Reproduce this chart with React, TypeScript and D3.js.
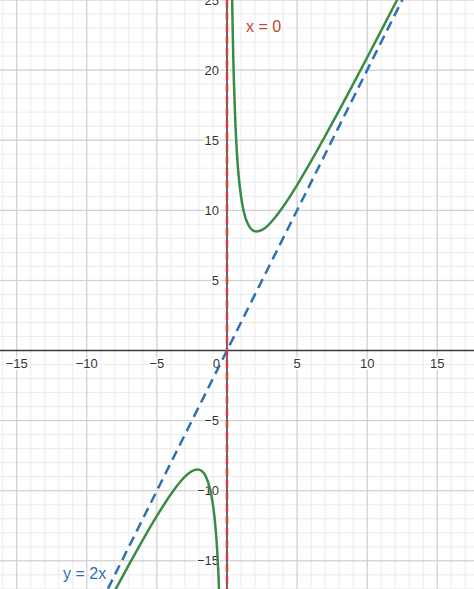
import React from "react";
import * as d3 from "d3";

const W = 474;
const H = 589;

const xDomain: [number, number] = [-16.19, 17.62];
const yDomain: [number, number] = [-17.01, 25.0];

const xTicks = [-15, -10, -5, 5, 10, 15];
const yTicks = [-15, -10, -5, 5, 10, 15, 20, 25];

// y = 2x + 9/x (right branch)
const rightX = [0.36, 0.4, 0.45, 0.5, 0.6, 0.7, 0.8, 0.9, 1.0, 1.2, 1.5, 1.8, 2.1, 2.5, 3, 3.5, 4, 5, 6, 7, 8, 9, 10, 11, 12, 12.5];
const rightY = [25.72, 23.3, 20.9, 19, 16.2, 14.26, 12.85, 11.8, 11, 9.9, 9, 8.6, 8.49, 8.6, 9, 9.57, 10.25, 11.8, 13.5, 15.29, 17.13, 19, 20.9, 22.82, 24.75, 25.72];
// left branch
const leftX = [-8.2, -8, -7, -6, -5, -4, -3.5, -3, -2.5, -2.1, -1.8, -1.5, -1.2, -1.0, -0.9, -0.8, -0.7, -0.6, -0.5, -0.45];
const leftY = [-17.5, -17.13, -15.29, -13.5, -11.8, -10.25, -9.57, -9, -8.6, -8.49, -8.6, -9, -9.9, -11, -11.8, -12.85, -14.26, -16.2, -19, -20.9];

// asymptote y = 2x endpoints
const asymX = [-9, 13];
const asymY = [-18, 26];

const GREEN = "#388c46";
const BLUE = "#2d70b3";
const RED = "#c74440";

export default function App() {
  const x = d3.scaleLinear().domain(xDomain).range([0, W]);
  const y = d3.scaleLinear().domain(yDomain).range([H, 0]);

  const minor = d3.range(-16, 18, 1);
  const minorY = d3.range(-17, 26, 1);

  const line = d3
    .line<[number, number]>()
    .x((d) => x(d[0]))
    .y((d) => y(d[1]))
    .curve(d3.curveMonotoneX);

  const right = line(rightX.map((v, i) => [v, rightY[i]] as [number, number]))!;
  const left = line(leftX.map((v, i) => [v, leftY[i]] as [number, number]))!;
  const asym = d3
    .line<[number, number]>()
    .x((d) => x(d[0]))
    .y((d) => y(d[1]))(asymX.map((v, i) => [v, asymY[i]] as [number, number]))!;

  const font = "Arial, 'Liberation Sans', sans-serif";

  return (
    <svg width={W} height={H} style={{ position: "absolute", left: 0, top: 0, background: "#fff" }}>
      <defs>
        <clipPath id="clip">
          <rect x={0} y={0} width={W} height={H} />
        </clipPath>
      </defs>
      <rect x={0} y={0} width={W} height={H} fill="#fff" />
      {minor.map((v) => (
        <line key={"mx" + v} x1={x(v)} x2={x(v)} y1={0} y2={H} stroke="#ebebeb" strokeWidth={1} />
      ))}
      {minorY.map((v) => (
        <line key={"my" + v} x1={0} x2={W} y1={y(v)} y2={y(v)} stroke="#ebebeb" strokeWidth={1} />
      ))}
      {[-15, -10, -5, 5, 10, 15].map((v) => (
        <line key={"Mx" + v} x1={x(v)} x2={x(v)} y1={0} y2={H} stroke="#cccccc" strokeWidth={1} />
      ))}
      {[-15, -10, -5, 5, 10, 15, 20, 25].map((v) => (
        <line key={"My" + v} x1={0} x2={W} y1={y(v)} y2={y(v)} stroke="#cccccc" strokeWidth={1} />
      ))}
      {/* axes */}
      <line x1={0} x2={W} y1={y(0)} y2={y(0)} stroke="#3a3a3a" strokeWidth={1.5} />
      <line x1={x(0)} x2={x(0)} y1={0} y2={H} stroke="#3a3a3a" strokeWidth={1.5} />
      {/* tick labels */}
      <g fontFamily={font} fontSize={13} fill="#333">
        {xTicks.map((v) => (
          <text key={"tx" + v} x={x(v)} y={y(0) + 17} textAnchor="middle"
            stroke="#fff" strokeWidth={3} paintOrder="stroke">
            {v < 0 ? "\u2212" + Math.abs(v) : String(v)}
          </text>
        ))}
        <text x={x(0) - 7} y={y(0) + 17} textAnchor="end" stroke="#fff" strokeWidth={3} paintOrder="stroke">0</text>
        {yTicks.map((v) => (
          <text key={"ty" + v} x={x(0) - 8} y={y(v) + 4.5} textAnchor="end"
            stroke="#fff" strokeWidth={3} paintOrder="stroke">
            {v < 0 ? "\u2212" + Math.abs(v) : String(v)}
          </text>
        ))}
      </g>
      <g clipPath="url(#clip)">
        <path d={asym} fill="none" stroke={BLUE} strokeWidth={2.5} strokeDasharray="10 6" />
        <line x1={x(0)} x2={x(0)} y1={0} y2={H} stroke={RED} strokeWidth={2.5} strokeDasharray="8 4" />
        <path d={right} fill="none" stroke={GREEN} strokeWidth={2.5} />
        <path d={left} fill="none" stroke={GREEN} strokeWidth={2.5} />
      </g>
      <text x={246} y={32} fontFamily={font} fontSize={16} fill={RED}>x = 0</text>
      <text x={63} y={579} fontFamily={font} fontSize={16} fill={BLUE}
        stroke="#fff" strokeWidth={3} paintOrder="stroke">y = 2x</text>
    </svg>
  );
}
